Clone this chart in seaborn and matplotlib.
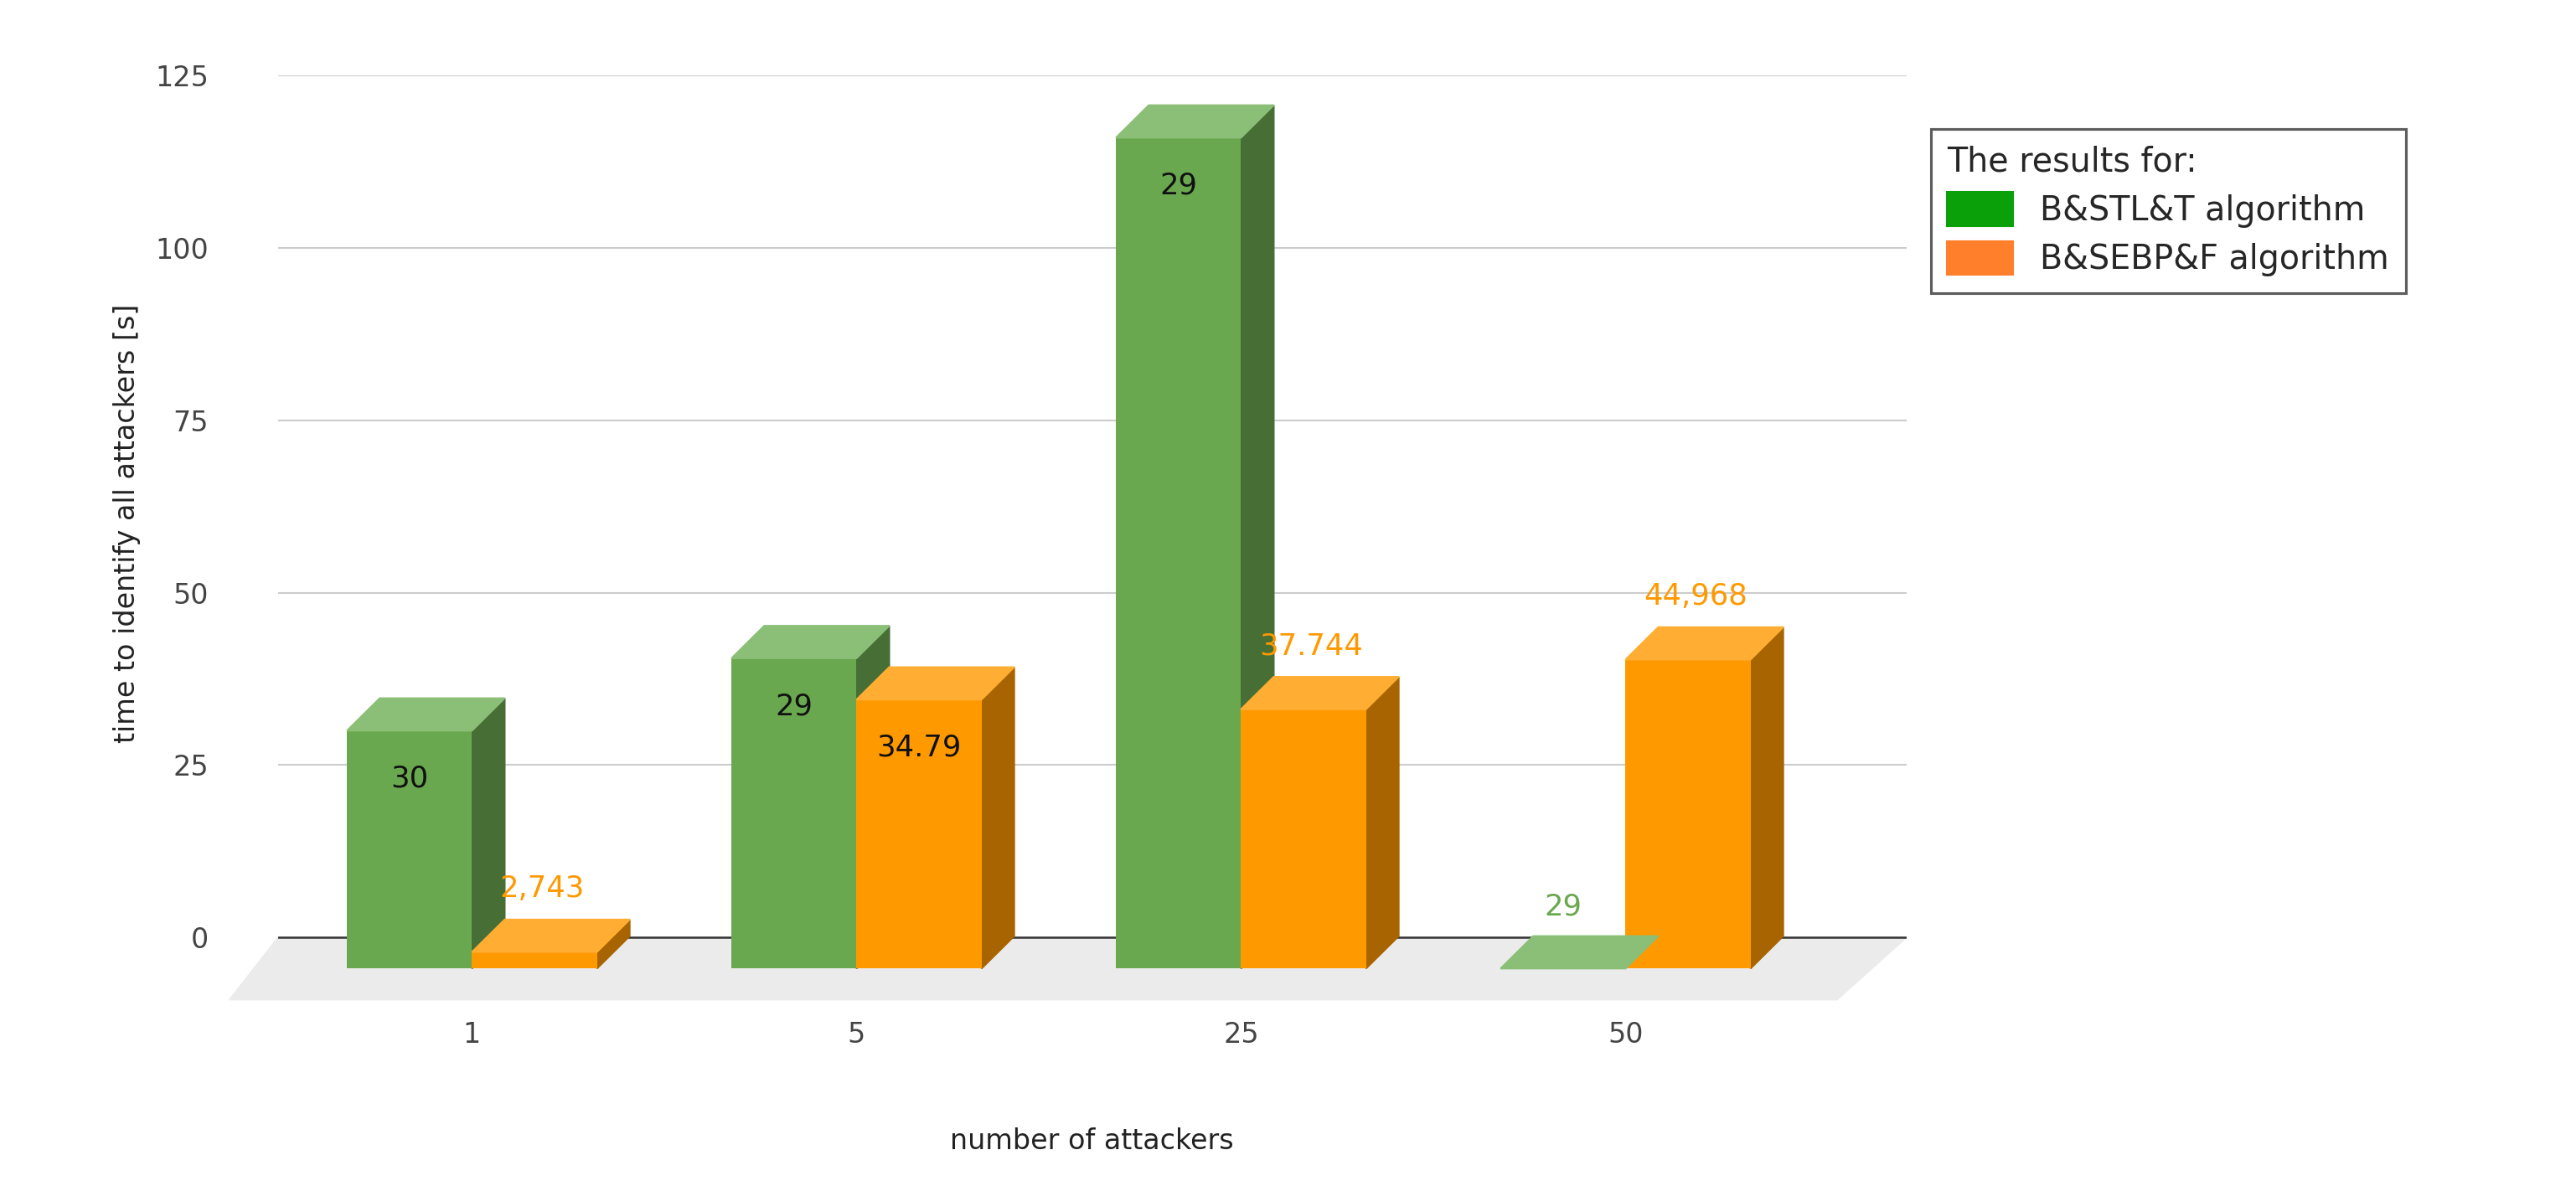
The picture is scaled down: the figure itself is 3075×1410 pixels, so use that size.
import matplotlib
matplotlib.use("Agg")
import matplotlib.pyplot as plt
import seaborn as sns
import pandas as pd
from matplotlib.patches import Polygon, Patch

categories = ["1", "5", "25", "50"]
green_vals = [34.5, 45.0, 120.5, 0.0]
orange_vals = [2.4, 39.0, 37.6, 44.8]
green_labels = ["30", "29", "29", "29"]
orange_labels = ["2,743", "34.79", "37.744", "44,968"]
series = ["B&STL&T algorithm", "B&SEBP&F algorithm"]

df = pd.DataFrame({
    "attackers": categories * 2,
    "time": green_vals + orange_vals,
    "series": [series[0]] * 4 + [series[1]] * 4,
})

sns.set_style("white")
plt.rcParams['font.family'] = ['DejaVu Sans']
fig = plt.figure(figsize=(20.5, 9.4), dpi=150)
ax = fig.add_axes([0.108, 0.177, 0.632, 0.759])

front = {series[0]: "#6aa84f", series[1]: "#ff9900"}
top = {series[0]: "#8bbf77", series[1]: "#ffad33"}
side = {series[0]: "#466e35", series[1]: "#a86400"}

sns.barplot(data=df, x="attackers", y="time", hue="series", palette=front,
            width=0.65, ax=ax, legend=False, saturation=1, zorder=3)

depth = 4.5
dx, dy = 0.085, 4.7
ax.set_xlim(-0.504, 3.73)
ax.set_ylim(-5, 125)

ax.add_patch(Polygon([(-0.63, -9), (3.55, -9), (3.73, 0), (-0.504, 0)], closed=True,
                     color="#ebebeb", zorder=1, clip_on=False))
for yv in [0, 25, 50, 75, 100, 125]:
    ax.plot([-0.504, 3.73], [yv, yv], color="#333333" if yv == 0 else "#cccccc",
            lw=1.2 if yv == 0 else 1.0, zorder=2)

patches = list(ax.patches)[:8]
for i, p in enumerate(patches):
    s = series[0] if i < 4 else series[1]
    h = p.get_height()
    x0 = p.get_x(); w = p.get_width()
    p.set_y(-depth); p.set_height(h)
    p.set_edgecolor("none")
    yt = h - depth
    ax.add_patch(Polygon([(x0, yt), (x0 + w, yt), (x0 + w + dx, yt + dy), (x0 + dx, yt + dy)],
                         color=top[s], zorder=3))
    if h > 0:
        ax.add_patch(Polygon([(x0 + w, -depth), (x0 + w + dx, -depth + dy), (x0 + w + dx, yt + dy), (x0 + w, yt)],
                             color=side[s], zorder=2.9))
    else:
        p.set_visible(False)
    cx = x0 + w / 2
    lbl = green_labels[i] if i < 4 else orange_labels[i - 4]
    if i < 4:
        if h > 10:
            ax.text(cx, yt - 7, lbl, ha="center", va="center", fontsize=17, color="#111111", zorder=5)
        else:
            ax.text(cx, yt + 9, lbl, ha="center", va="center", fontsize=17, color="#6aa84f", zorder=5)
    else:
        if i == 5:
            ax.text(cx, yt - 7, lbl, ha="center", va="center", fontsize=17, color="#111111", zorder=5)
        else:
            ax.text(cx + 0.02, yt + dy + 4.5, lbl, ha="center", va="center", fontsize=17, color="#ff9900", zorder=5)

for sp in ax.spines.values():
    sp.set_visible(False)
ax.set_yticks([0, 25, 50, 75, 100, 125])
ax.tick_params(axis="both", length=0, labelsize=16, colors="#444444")
ax.tick_params(axis="y", pad=40)
ax.tick_params(axis="x", pad=28)
ax.set_xlabel("number of attackers", fontsize=16, color="#222222", labelpad=45)
ax.set_ylabel("time to identify all attackers [s]", fontsize=16, color="#222222", labelpad=8)

handles = [Patch(color="#0aa00a", label=series[0]), Patch(color="#ff7f2a", label=series[1])]
leg = fig.legend(handles=handles, title="The results for:", loc="upper left",
                 bbox_to_anchor=(0.743, 0.905), fontsize=19, title_fontsize=19,
                 frameon=True, fancybox=False, edgecolor="#333333", handlelength=2.0,
                 handleheight=1.2, borderpad=0.5, labelspacing=0.4)
leg._legend_box.align = "left"
leg.get_frame().set_linewidth(1.5)

fig.savefig("out.png", dpi=150, facecolor="white")
